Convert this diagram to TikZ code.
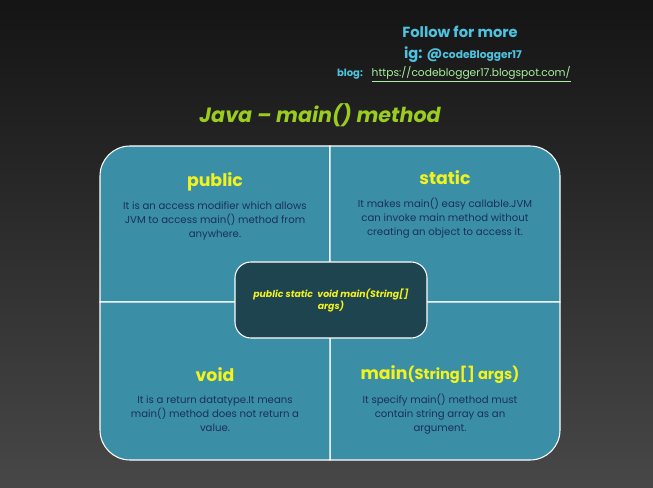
\documentclass[tikz,border=0pt]{standalone}
\usepackage{fontspec}
\setmainfont{Poppins}
\usetikzlibrary{positioning}
\definecolor{quad}{HTML}{3A8FA6}
\definecolor{ctr}{HTML}{1E4450}
\definecolor{navy}{HTML}{1C2E60}
\definecolor{yel}{HTML}{F2F21E}
\definecolor{cyanT}{HTML}{4EC3E0}
\definecolor{linkT}{HTML}{A8F0A0}
\definecolor{titleG}{HTML}{9ACD20}
\tikzset{
 quadbox/.style={fill=quad,draw=white,line width=0.8pt},
 head/.style={text=yel,font=\bfseries\fontsize{13}{14}\selectfont},
 body/.style={text=navy,font=\fontsize{7.6}{10.5}\selectfont,align=center},
}
\begin{document}
\begin{tikzpicture}[x=0.75pt,y=-0.75pt]
\shade[top color=black!92,bottom color=black!72] (0,0) rectangle (653,488);
\useasboundingbox (0,0) rectangle (653,488);
\def\r{30}
\path[quadbox] (100,302) -- (100,176) arc[start angle=180,end angle=270,radius=\r] -- (330,146) -- (330,302) -- cycle;
\path[quadbox] (330,146) -- (530,146) arc[start angle=270,end angle=360,radius=\r] -- (560,302) -- (330,302) -- cycle;
\path[quadbox] (330,302) -- (560,302) -- (560,430) arc[start angle=0,end angle=90,radius=\r] -- (330,460) -- cycle;
\path[quadbox] (100,302) -- (330,302) -- (330,460) -- (130,460) arc[start angle=90,end angle=180,radius=\r] -- cycle;
\node[fill=ctr,draw=white,line width=0.8pt,rounded corners=12pt,minimum width=144pt,minimum height=57pt,text=yel,font=\bfseries\itshape\fontsize{7}{9}\selectfont,align=center] (c) at (331,300) {public static\ \ void main(String[]\\args)};
\node[head] (pub) at (215,182) {public};
\node[body] (pubt) at (215,221) {It is an access modifier which allows\\JVM to access main() method from\\anywhere.};
\node[head] (sta) at (445,178) {static};
\node[body] (stat) at (445,218) {It makes main() easy callable.JVM\\can invoke main method without\\creating an object to access it.};
\node[head] (voi) at (215,375) {void};
\node[body] (voit) at (215,414) {It is a return datatype.It means\\main() method does not return a\\value.};
\node[head] (mai) at (440,375) {main\fontsize{11}{12}\selectfont(String[] args)};
\node[body] (mait) at (440,414) {It specify main() method must\\contain string array as an\\argument.};
\node[text=titleG,font=\bfseries\itshape\fontsize{15.5}{18}\selectfont] (title) at (320,115) {Java – main() method};
\node[text=cyanT,font=\bfseries\fontsize{11}{12}\selectfont] (f) at (460,32) {Follow for more};
\node[text=cyanT,font=\bfseries\fontsize{11}{12}\selectfont] (ig) at (463,55) {ig: @{\fontsize{8}{9}\selectfont codeBlogger17}};
\node[text=cyanT,font=\bfseries\fontsize{7.5}{9}\selectfont] (bl) at (350,74) {blog:};
\node[text=linkT,font=\fontsize{8}{9}\selectfont,anchor=west] (url) at (367,74) {\underline{https://codeblogger17.blogspot.com/}};
\end{tikzpicture}
\end{document}
